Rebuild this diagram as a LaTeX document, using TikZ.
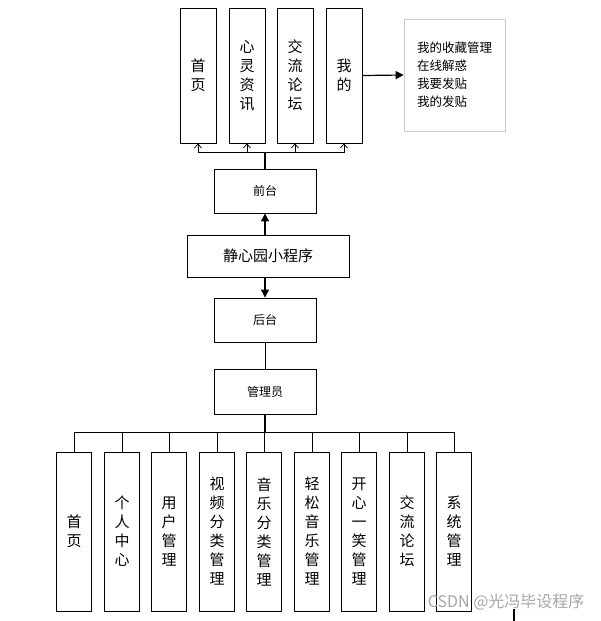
\documentclass[tikz,border=0pt]{standalone}
\usepackage{fontspec}
\setmainfont{Noto Sans CJK SC}
\usetikzlibrary{arrows.meta}
\begin{document}
\begin{tikzpicture}[x=1pt,y=-1pt,
 bx/.style={draw,line width=0.9pt,fill=white,inner sep=0pt,align=center,font=\fontsize{15}{19}\selectfont},
 hb/.style={draw,line width=0.9pt,inner sep=0pt,font=\fontsize{12}{14}\selectfont},
 ln/.style={line width=0.7pt},
 up/.style={ln,-{Straight Barb[length=4pt,width=7pt]}},
 big/.style={line width=1.2pt,-{Triangle[length=8pt,width=8pt]}}]
\useasboundingbox (0,0) rectangle (600,621);
% top boxes
\node[bx,minimum width=36,minimum height=135] (t1) at (198,75.5) {首\\页};
\node[bx,minimum width=36,minimum height=135] (t2) at (247,75.5) {心\\灵\\资\\讯};
\node[bx,minimum width=36,minimum height=135] (t3) at (295,75.5) {交\\流\\论\\坛};
\node[bx,minimum width=36,minimum height=135] (t4) at (344,75.5) {我\\的};
\node[draw=black!20,line width=0.8pt,minimum width=101,minimum height=112,align=left,inner sep=0pt,font=\fontsize{12.5}{18}\selectfont] (side) at (454.5,75) {我的收藏管理\\在线解惑\\我要发贴\\我的发贴};
\draw[big] (t4.east) -- (side.west);
\node[hb,minimum width=102,minimum height=44] (qt) at (265,191) {前台};
\node[hb,minimum width=162,minimum height=42,font=\fontsize{15}{17}\selectfont] (app) at (268,256) {静心园小程序};
\node[hb,minimum width=102,minimum height=44] (ht) at (265,320) {后台};
\node[hb,minimum width=102,minimum height=45] (gl) at (265,391.5) {管理员};
\coordinate (j1) at (265,152);
\draw[ln,line width=1.1pt] (qt.north) -- (j1);
\foreach \n in {t1,t2,t3,t4}{\draw[up] (j1) -| (\n.south);}
\draw[big] (app.north -| qt.north) -- (qt.south);
\draw[big] (app.south -| ht.north) -- (ht.north);
\draw[ln] (ht.south) -- (gl.north);
% bottom
\coordinate (j2) at (265,432);
\draw[ln,line width=1.1pt] (gl.south) -- (j2);
\foreach \i/\x/\t in {1/74/首\\页, 2/122/个\\人\\中\\心, 3/169/用\\户\\管\\理, 4/217/视\\频\\分\\类\\管\\理, 5/264/音\\乐\\分\\类\\管\\理, 6/312/轻\\松\\音\\乐\\管\\理, 7/359/开\\心\\一\\笑\\管\\理, 8/407/交\\流\\论\\坛, 9/454/系\\统\\管\\理}{
 \node[bx,minimum width=35,minimum height=159] (b\i) at (\x,531.5) {\t};
 \draw[ln] (j2) -| (b\i.north);
}
\node[text=black!35,font=\fontsize{16}{18}\selectfont,anchor=east] (wm) at (588,602) {CSDN @光冯毕设程序};
\coordinate (c1) at (514,609);
\coordinate (c2) at (514,621);
\draw[line width=1.2pt] (c1) -- (c2);
\end{tikzpicture}
\end{document}
